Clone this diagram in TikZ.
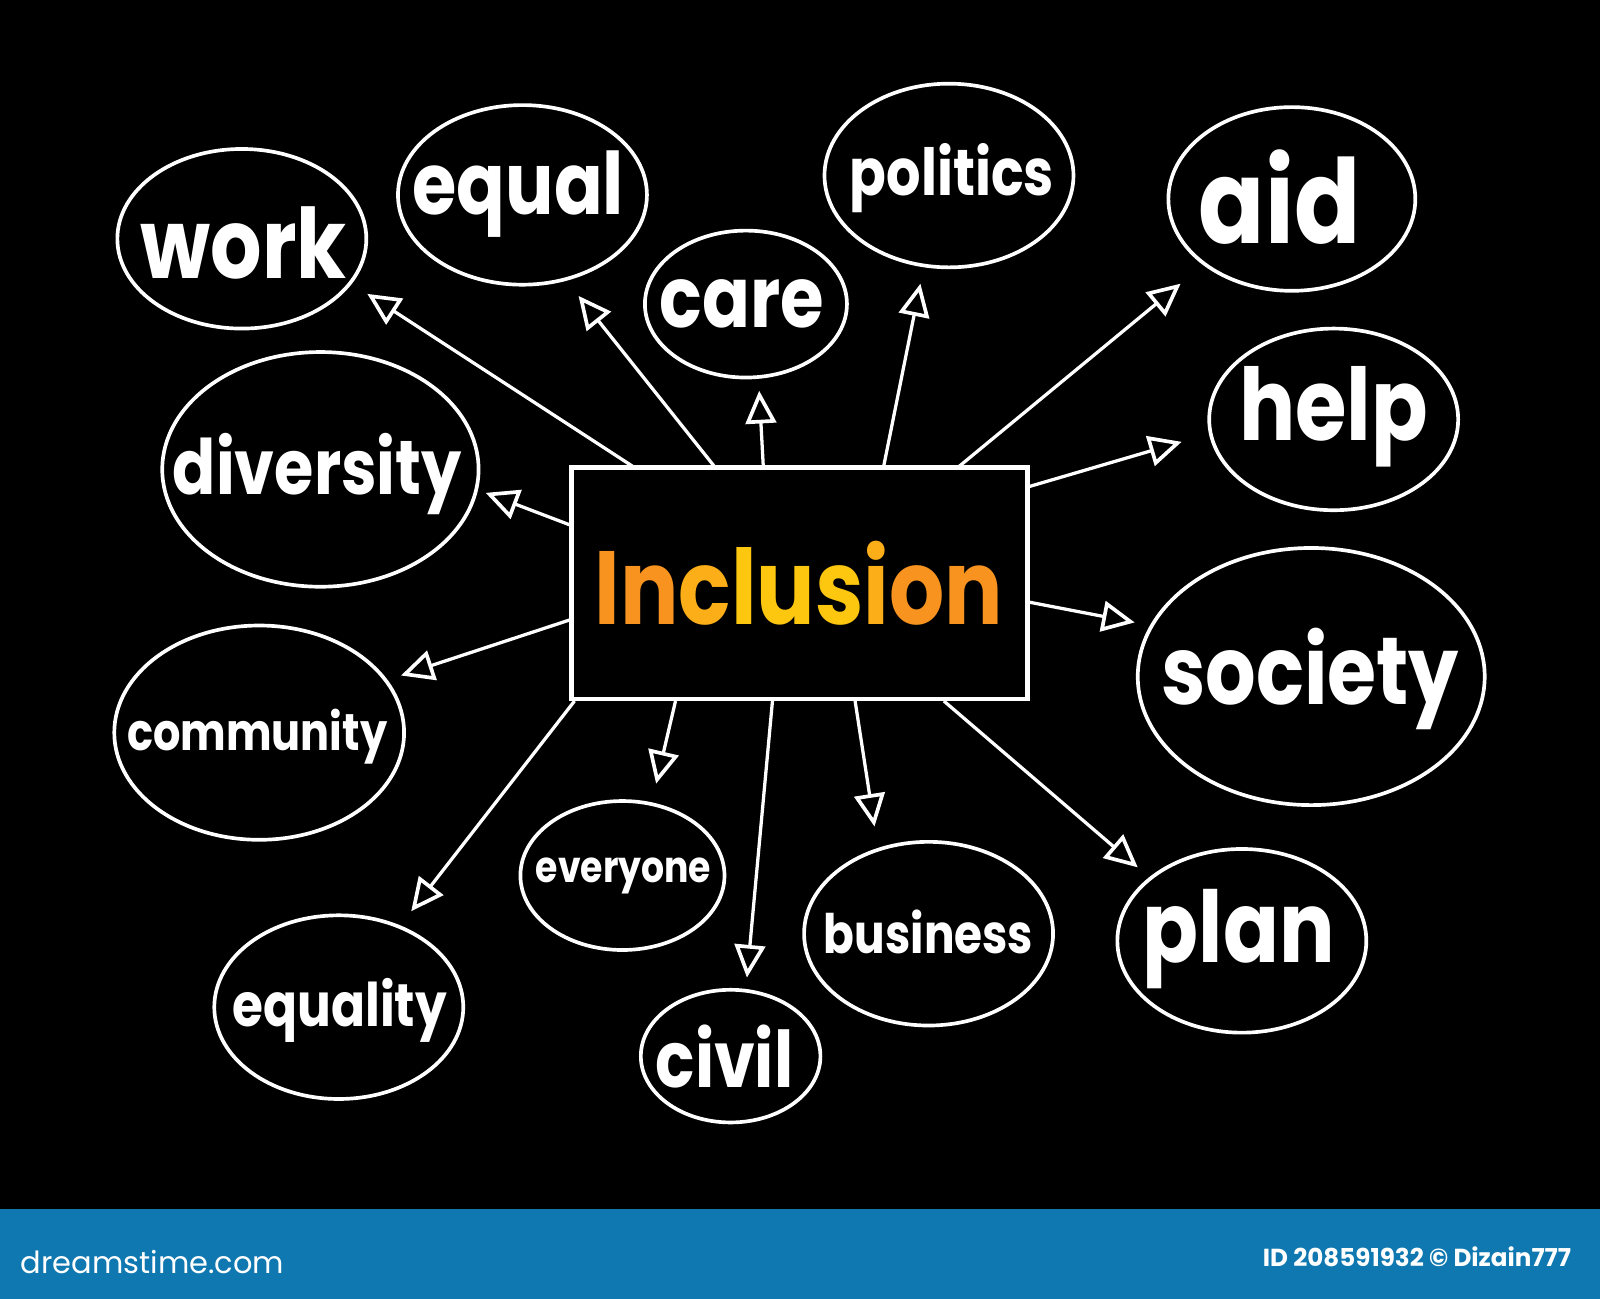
\documentclass[tikz,border=0pt]{standalone}
\usepackage{fontspec}
\setmainfont{Poppins}
\usetikzlibrary{shapes.geometric,arrows.meta,calc}
\newlength\pxu
\setlength\pxu{0.5pt}
\newcommand\fitw[2]{\scalebox{1}[1.2]{\resizebox{#1\pxu}{!}{\bfseries #2}}}
\definecolor{orA}{HTML}{F7931E}
\definecolor{orB}{HTML}{FBAE17}
\definecolor{orC}{HTML}{FDC70F}
\definecolor{barblue}{HTML}{0F78B0}
\begin{document}
\begin{tikzpicture}[x=0.5pt,y=-0.5pt,
  bubble/.style={draw=white,line width=1.8pt,ellipse,inner sep=0pt,text=white},
  arr/.style={draw=white,line width=1.6pt,-{Triangle[open,fill=black,length=16pt,width=15pt,line width=1.8pt]}},
  word/.style={text=white,inner sep=0pt}]
\fill[black] (0,0) rectangle (1568,1185);
\fill[barblue] (0,1185) rectangle (1568,1273);
\useasboundingbox (0,0) rectangle (1568,1273);

% central box
\node[draw=white,line width=2.4pt,rectangle,minimum width=223.5pt,minimum height=113.5pt,inner sep=0pt] (box) at (783.5,571.5) {};
\node[inner sep=0pt] (inc) at (783,572) {\scalebox{1}[1.2]{\resizebox{400\pxu}{!}{\bfseries\textcolor{orA}{I}\textcolor{orA}{n}\textcolor{orB}{c}\textcolor{orC}{l}\textcolor{orC}{u}\textcolor{orC}{s}\textcolor{orB}{i}\textcolor{orA}{o}\textcolor{orA}{n}}}};

% bubbles
\node[bubble,minimum width=122pt,minimum height=88pt] (work) at (237,234) {};
\node[bubble,minimum width=122pt,minimum height=88pt] (equal) at (512,191) {};
\node[bubble,minimum width=99pt,minimum height=72pt] (care) at (731,298) {};
\node[bubble,minimum width=122pt,minimum height=90pt] (politics) at (930,172) {};
\node[bubble,minimum width=121pt,minimum height=90pt] (aid) at (1266,195) {};
\node[bubble,minimum width=122pt,minimum height=89pt] (help) at (1307,411) {};
\node[bubble,minimum width=155pt,minimum height=115pt] (diversity) at (314,460) {};
\node[bubble,minimum width=170pt,minimum height=126pt] (society) at (1285,663) {};
\node[bubble,minimum width=142pt,minimum height=105pt] (community) at (254,718) {};
\node[bubble,minimum width=100pt,minimum height=73pt] (everyone) at (610,858) {};
\node[bubble,minimum width=88pt,minimum height=65pt] (civil) at (716,1035) {};
\node[bubble,minimum width=122pt,minimum height=90pt] (business) at (910,915) {};
\node[bubble,minimum width=122pt,minimum height=90pt] (plan) at (1217,922) {};
\node[bubble,minimum width=122pt,minimum height=90pt] (equality) at (332,987) {};

% words
\node[word] (t-work) at (239,238) {\fitw{202}{work}};
\node[word] (t-equal) at (508,190) {\fitw{207}{equal}};
\node[word] (t-care) at (727,298) {\fitw{161}{care}};
\node[word] (t-politics) at (933,175) {\fitw{200}{politics}};
\node[word] (t-aid) at (1254,193) {\fitw{158}{aid}};
\node[word] (t-help) at (1307,408) {\fitw{185}{help}};
\node[word] (t-diversity) at (311,465) {\fitw{283}{diversity}};
\node[word] (t-society) at (1284,665) {\fitw{292}{society}};
\node[word] (t-community) at (252,722) {\fitw{255}{community}};
\node[word] (t-everyone) at (611,858) {\fitw{172}{everyone}};
\node[word] (t-civil) at (710,1035) {\fitw{135}{civil}};
\node[word] (t-business) at (910,913) {\fitw{205}{business}};
\node[word] (t-plan) at (1214,920) {\fitw{188}{plan}};
\node[word] (t-equality) at (333,990) {\fitw{210}{equality}};

% arrow ends
\coordinate (s1) at (620,457);  \coordinate (e1) at (360,288);
\coordinate (s2) at (700,457);  \coordinate (e2) at (567,290);
\coordinate (s3) at (748,457);  \coordinate (e3) at (744,383);
\coordinate (s4) at (866,457);  \coordinate (e4) at (902,278);
\coordinate (s5) at (940,457);  \coordinate (e5) at (1157,278);
\coordinate (s6) at (1008,477); \coordinate (e6) at (1158,433);
\coordinate (s7) at (560,515);  \coordinate (e7) at (476,483);
\coordinate (s8) at (1008,590); \coordinate (e8) at (1112,610);
\coordinate (s9) at (560,607);  \coordinate (e9) at (393,662);
\coordinate (s10) at (563,687); \coordinate (e10) at (403,893);
\coordinate (s11) at (662,687); \coordinate (e11) at (643,768);
\coordinate (s12) at (757,687); \coordinate (e12) at (732,958);
\coordinate (s13) at (838,687); \coordinate (e13) at (857,810);
\coordinate (s14) at (925,687); \coordinate (e14) at (1115,850);
\foreach \i in {1,...,14} { \draw[arr] (s\i) -- (e\i); }

% bottom bar
\node[anchor=west,text=white,inner sep=0pt] (brand) at (20,1237) {\resizebox{258\pxu}{!}{dreamstime.com}};
\node[anchor=east,text=white,inner sep=0pt] (idtxt) at (1540,1232) {\resizebox{302\pxu}{!}{\bfseries ID 208591932 © Dizain777}};
\end{tikzpicture}
\end{document}
